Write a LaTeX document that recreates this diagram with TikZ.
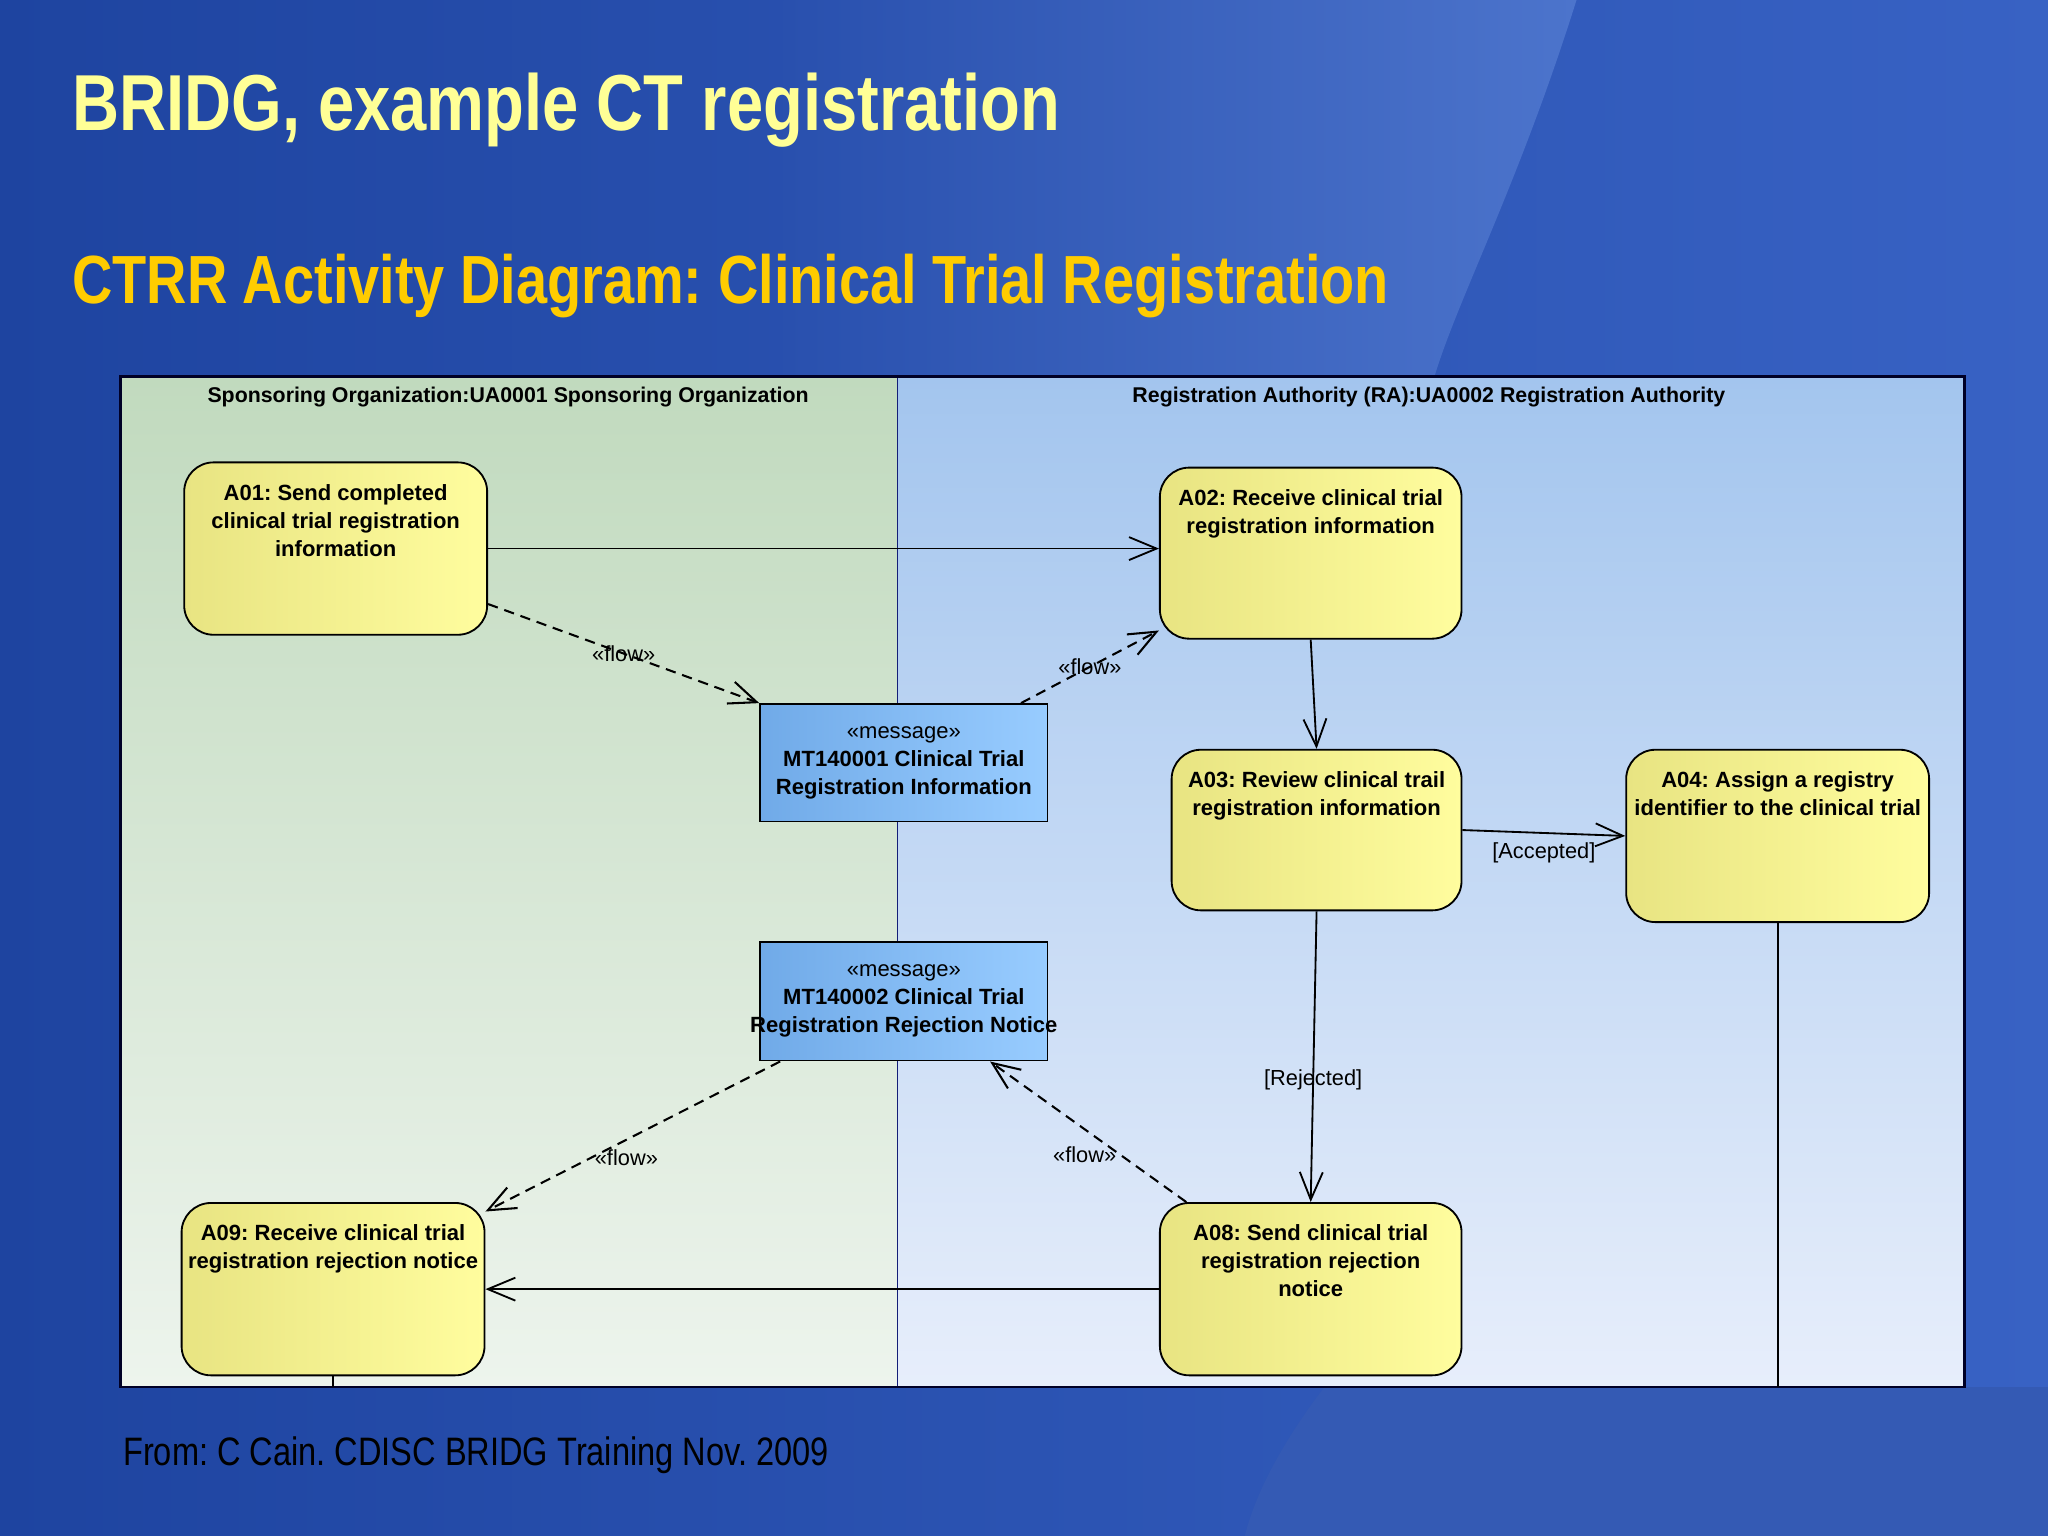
\documentclass[tikz,border=0pt]{standalone}
\usepackage{fontspec}
\setmainfont{Liberation Sans}
\newfontfamily\narrowfont[FakeStretch=0.82]{Liberation Sans}
\usetikzlibrary{arrows.meta}
\frenchspacing
\definecolor{bgleft}{RGB}{30,68,160}
\definecolor{bgright}{RGB}{56,98,196}
\definecolor{bgband}{RGB}{76,116,204}
\definecolor{bgbandin}{RGB}{41,80,174}
\definecolor{bgswoosh}{RGB}{52,90,180}
\definecolor{titleA}{RGB}{255,255,150}
\definecolor{titleB}{RGB}{255,204,0}
\definecolor{laneAtop}{RGB}{193,218,190}
\definecolor{laneAbot}{RGB}{237,244,237}
\definecolor{laneBtop}{RGB}{163,197,238}
\definecolor{laneBbot}{RGB}{231,238,251}
\definecolor{actleft}{RGB}{232,228,130}
\definecolor{actright}{RGB}{255,253,158}
\definecolor{msgleft}{RGB}{112,170,232}
\definecolor{msgright}{RGB}{152,204,255}
\definecolor{lanerule}{RGB}{20,30,120}

\begin{document}
\begin{tikzpicture}[x=0.02cm, y=-0.02cm,
    font=\fontsize{9.6}{12.2}\selectfont,
    act/.style={draw, line width=0.8pt, rounded corners=0.45cm, left color=actleft, right color=actright, minimum width=4.64cm, minimum height=2.64cm},
    acttxt/.style={anchor=north, yshift=-7.7pt, align=center, inner sep=2pt, font=\fontsize{9.6}{12.2}\selectfont\bfseries},
    msg/.style={draw, line width=0.8pt, left color=msgleft, right color=msgright, minimum width=4.4cm, minimum height=1.8cm, align=center, inner sep=1pt},
    flow/.style={->, dash pattern=on 4.5pt off 3pt, line width=0.9pt},
    ctrl/.style={->, line width=0.8pt},
    lbl/.style={font=\fontsize{9.5}{11}\selectfont, inner sep=1pt},
    lanehead/.style={font=\fontsize{9.3}{11}\selectfont\bfseries},
    >={Straight Barb[length=12pt, width=10pt]}
  ]
    \useasboundingbox (0,0) rectangle (1568,1176);

    % slide background
    \shade[left color=bgleft, right color=bgright] (0,0) rectangle (1568,1176);
    \shade[left color=bgbandin, right color=bgband] (600,0) -- (1207,0) .. controls (1160,150) and (1110,240) .. (1095,300) -- (600,300) -- cycle;
    \fill[bgswoosh] (1014,1062) .. controls (985,1100) and (962,1140) .. (953,1176) -- (1568,1176) -- (1568,1062) -- cycle;

    % titles
    \node[anchor=base west, inner sep=0, text=titleA, font=\narrowfont\bfseries\fontsize{34.6}{40}\selectfont] (title) at (55,100) {BRIDG, example CT registration};
    \node[anchor=base west, inner sep=0, text=titleB, font=\narrowfont\bfseries\fontsize{29.7}{34}\selectfont] (subtitle) at (55,232) {CTRR Activity Diagram: Clinical Trial Registration};

    % lanes and frame
    \coordinate (fnw) at (92,288);
    \coordinate (fse) at (1504,1062);
    \shade[top color=laneAtop, bottom color=laneAbot] (fnw) rectangle (687,1062);
    \shade[top color=laneBtop, bottom color=laneBbot] (687,288) rectangle (fse);
    \draw[lanerule, line width=0.6pt] (687,288) -- (687,1062);
    \draw[line width=1.2pt, black!85!blue] (fnw) rectangle (fse);
    \node[lanehead] (laneA) at (389,304) {Sponsoring Organization:UA0001 Sponsoring Organization};
    \node[lanehead] (laneB) at (1094,304) {Registration Authority (RA):UA0002 Registration Authority};

    % activities
    \node[act, label={[acttxt]north:{A01: Send completed\\clinical trial registration\\information}}] (a01) at (257,420) {};
    \node[act, minimum width=4.62cm, minimum height=2.62cm, label={[acttxt]north:{A02: Receive clinical trial\\registration information}}] (a02) at (1003.5,423.5) {};
    \node[act, minimum width=4.44cm, minimum height=2.46cm, label={[acttxt]north:{A03: Review clinical trail\\registration information}}] (a03) at (1008,635.5) {};
    \node[act, label={[acttxt]north:{A04: Assign a registry\\identifier to the clinical trial}}] (a04) at (1361,640) {};
    \node[act, minimum width=4.62cm, label={[acttxt]north:{A08: Send clinical trial\\registration rejection\\notice}}] (a08) at (1003.5,987) {};
    \node[act, label={[acttxt]north:{A09: Receive clinical trial\\registration rejection notice}}] (a09) at (255,987) {};

    % messages
    \node[msg] (m1) at (692,584) {«message»\\\textbf{MT140001 Clinical Trial}\\\textbf{Registration Information}};
    \node[msg, minimum height=1.82cm] (m2) at (692,766.5) {«message»\\\textbf{MT140002 Clinical Trial}\\\makebox[0pt]{\textbf{Registration Rejection Notice}}};

    % control flows
    \draw[ctrl] (a01.east) -- (a01.east -| a02.west);
    \draw[ctrl] (a02.south) -- (a03.north);
    \draw[ctrl] (a03.east) -- node[lbl, below=3pt]{[Accepted]} (a04.west);
    \draw[ctrl] (a03.south) -- node[lbl, pos=0.58]{[Rejected]} (a08.north);
    \draw[ctrl] (a08.west) -- (a09.east);
    \draw[line width=0.8pt] (a04.south) -- (a04.south |- fse);
    \draw[line width=0.8pt] (a09.south) -- (a09.south |- fse);

    % object flows
    \draw[flow] (a01.-20) -- node[lbl]{«flow»} (m1.north west);
    \draw[flow] (m1.27) -- node[lbl]{«flow»} (a02.207);
    \draw[flow] (a08.145) -- node[lbl, pos=0.34, anchor=east]{«flow»} (m2.-35);
    \draw[flow] (m2.206) -- node[lbl, pos=0.64, anchor=west]{«flow»} (a09.27);

    % source
    \node[anchor=base west, inner sep=0, font=\narrowfont\fontsize{17.3}{20}\selectfont] (source) at (94,1122) {From: C Cain. CDISC BRIDG Training Nov. 2009};
\end{tikzpicture}
\end{document}
